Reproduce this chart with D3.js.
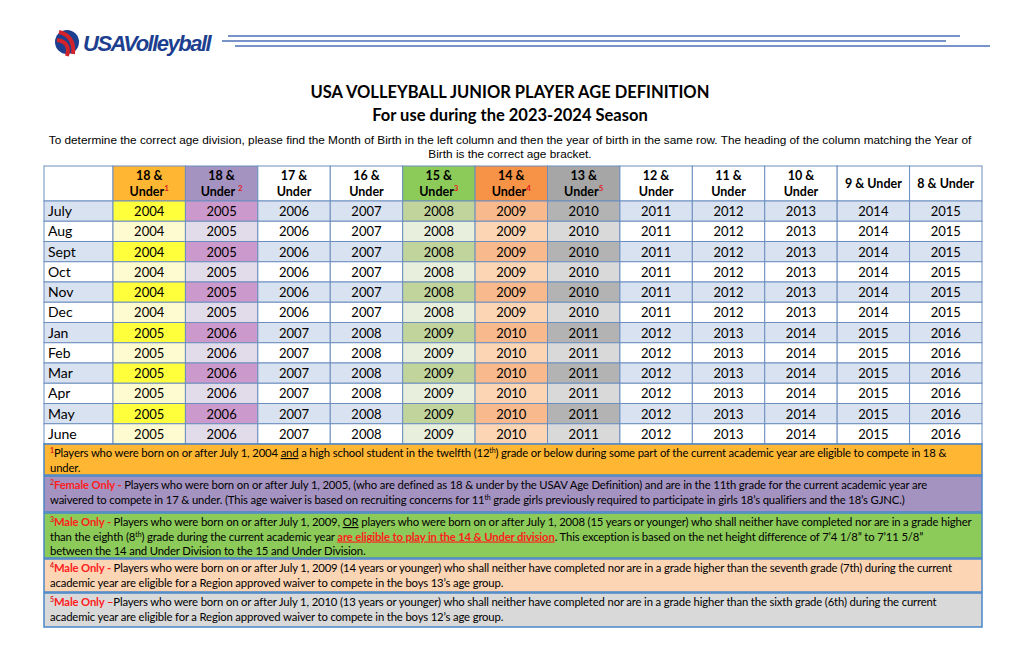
<!DOCTYPE html>
<html><head><meta charset="utf-8">
<script src="https://cdn.jsdelivr.net/npm/d3@7"></script>
<style>body{margin:0;background:#fff;}</style>
</head><body>
<svg id="page" width="1024" height="651"></svg>
<script>
const months = ["July","Aug","Sept","Oct","Nov","Dec","Jan","Feb","Mar","Apr","May","June"];
const headers = [["18 &","Under","1"],["18 &","Under ","2"],["17 &","Under"],["16 &","Under"],["15 &","Under","3"],["14 &","Under","4"],["13 &","Under","5"],["12 &","Under"],["11 &","Under"],["10 &","Under"],["9 & Under"],["8 & Under"]];
const firstYears = [2004,2005,2006,2007,2008,2009,2010,2011,2012,2013,2014,2015];
const headFill = ["#ffb733","#a493c0",null,null,"#8ccb5a","#f79346","#a6a6a6"];
const darkFill = ["#ffff3c","#cc99cc",null,null,"#c0d49c","#f8b98c","#b3b3b3"];
const lightFill = ["#fffbd0","#e2dcea",null,null,"#e8efdc","#fcd5b5","#d9d9d9"];
const notes = [
  {fill:"#ffb733", sup:"1", lead:"", rows:[[["Players who were born on or after July 1, 2004 "],["and","u"],[" a high school student in the twelfth (12"],["th","s"],[") grade or below during some part of the current academic year are eligible to compete in 18 &"]],[["under."]]]},
  {fill:"#a493c0", sup:"2", lead:"Female Only - ", rows:[[["Players who were born on or after July 1, 2005, (who are defined as 18 & under by the USAV Age Definition) and are in the 11th grade for the current academic year are"]],[["waivered to compete in 17 & under.  (This age waiver is based on recruiting concerns for 11"],["th","s"],[" grade girls previously required to participate in girls 18’s qualifiers and the 18’s GJNC.)"]]]},
  {fill:"#8ccb5a", sup:"3", lead:"Male Only - ", rows:[[["Players who were born on or after July 1, 2009, "],["OR","u"],[" players who were born on or after July 1, 2008 (15 years or younger) who shall neither have completed nor are in a grade higher"]],[["than the eighth (8"],["th","s"],[") grade during the current academic year "],["are eligible to play in the 14 & Under division","r"],[".  This exception is based on the net height difference of 7’4 1/8” to 7’11 5/8”"]],[["between the 14 and Under Division to the 15 and Under Division."]]]},
  {fill:"#fcd5b5", sup:"4", lead:"Male Only - ", rows:[[["Players who were born on or after July 1, 2009 (14 years or younger) who shall neither have completed nor are in a grade higher than the seventh grade (7th) during the current"]],[["academic year are eligible for a Region approved waiver to compete in the boys 13’s age group."]]]},
  {fill:"#d9d9d9", sup:"5", lead:"Male Only –", rows:[[["Players who were born on or after July 1, 2010 (13 years or younger) who shall neither have completed nor are in a grade higher than the sixth grade (6th) during the current"]],[["academic year are eligible for a Region approved waiver to compete in the boys 12’s age group."]]]}
];
const noteHeights = [31, 36, 45, 33, 34];

const font = "Lato, 'Liberation Sans', sans-serif";
const svg = d3.select("#page").attr("font-family", font);

// logo
const logo = svg.append("g").attr("transform","translate(55,28)");
logo.append("circle").attr("cx",12).attr("cy",14).attr("r",12).attr("fill","#1d3f8f");
logo.append("path").attr("d","M4,4 Q20,8 18,26 M2,12 Q16,14 12,28").attr("stroke","#d2232a").attr("stroke-width",4).attr("fill","none");
logo.append("text").attr("x",28).attr("y",23).attr("font-size",22).attr("font-weight",900).attr("font-style","italic")
  .attr("fill","#1d3f8f").attr("letter-spacing",-1.5).attr("font-family","'Liberation Sans', Arial, sans-serif").text("USAVolleyball");
[[228,960,36],[222,946,41],[235,990,46]].forEach(([a,b,y])=>svg.append("line").attr("x1",a).attr("x2",b).attr("y1",y).attr("y2",y).attr("stroke","#4a6fb5").attr("stroke-width",1.3));

svg.append("text").attr("x",510).attr("y",98).attr("text-anchor","middle").attr("font-size",16.5).attr("font-weight",700).text("USA VOLLEYBALL JUNIOR PLAYER AGE DEFINITION");
svg.append("text").attr("x",510).attr("y",121).attr("text-anchor","middle").attr("font-size",16.5).attr("font-weight",700).text("For use during the 2023-2024 Season");
const sub = svg.append("g").attr("font-family","'Liberation Sans', Arial, sans-serif").attr("font-size",11.8).attr("text-anchor","middle");
sub.append("text").attr("x",510).attr("y",144).text("To determine the correct age division, please find the Month of Birth in the left column and then the year of birth in the same row. The heading of the column matching the Year of");
sub.append("text").attr("x",510).attr("y",158).text("Birth is the correct age bracket.");

// table
const left = 44, right = 982, firstW = 69;
const x = d3.scaleBand().domain(d3.range(headers.length)).range([left+firstW, right]);
const headTop = 166, headBot = 201;
const y = d3.scaleBand().domain(months).range([headBot, 444]);
const border = "#6c8ebf";

const head = svg.append("g");
head.append("rect").attr("x",left).attr("y",headTop).attr("width",firstW).attr("height",headBot-headTop).attr("fill","#fff").attr("stroke",border);
headers.forEach((h,i)=>{
  const g = head.append("g");
  g.append("rect").attr("x",x(i)).attr("y",headTop).attr("width",x.bandwidth()).attr("height",headBot-headTop)
    .attr("fill",headFill[i]||"#fff").attr("stroke",border);
  const cx = x(i)+x.bandwidth()/2;
  if (h.length===1) {
    g.append("text").attr("x",cx).attr("y",188).attr("text-anchor","middle").attr("font-size",12.5).attr("font-weight",700).text(h[0]);
  } else {
    g.append("text").attr("x",cx).attr("y",180).attr("text-anchor","middle").attr("font-size",12.5).attr("font-weight",700).text(h[0]);
    const t = g.append("text").attr("x",cx).attr("y",196).attr("text-anchor","middle").attr("font-size",12.5).attr("font-weight",700).text(h[1]);
    if (h[2]) t.append("tspan").attr("font-size",8).attr("baseline-shift","super").attr("fill","#e02020").text(h[2]);
  }
});

const body = svg.append("g");
months.forEach((m,r)=>{
  const even = r%2===0;
  const off = r>=6 ? 1 : 0;
  body.append("rect").attr("x",left).attr("y",y(m)).attr("width",firstW).attr("height",y.bandwidth())
    .attr("fill",even?"#d9e2f1":"#fff").attr("stroke",border);
  body.append("text").attr("x",left+4).attr("y",y(m)+y.bandwidth()/2+5).attr("font-size",14).text(m);
  firstYears.forEach((yr,i)=>{
    const fill = (even?darkFill[i]:lightFill[i]) || (even?"#d9e2f1":"#fff");
    body.append("rect").attr("x",x(i)).attr("y",y(m)).attr("width",x.bandwidth()).attr("height",y.bandwidth())
      .attr("fill",fill).attr("stroke",border);
    body.append("text").attr("x",x(i)+x.bandwidth()/2).attr("y",y(m)+y.bandwidth()/2+5).attr("text-anchor","middle")
      .attr("font-size",13).text(yr+off);
  });
});

// footnotes
let ny = 444;
notes.forEach((n,k)=>{
  const h = noteHeights[k];
  svg.append("rect").attr("x",left).attr("y",ny).attr("width",right-left).attr("height",h).attr("fill",n.fill).attr("stroke","#4a86c8").attr("stroke-width",1.5);
  n.rows.forEach((row,li)=>{
    const t = svg.append("text").attr("x",left+6).attr("y",ny+13+li*14.5).attr("font-size",11.3).attr("letter-spacing",-0.15);
    if (li===0) {
      t.append("tspan").attr("font-size",7).attr("baseline-shift","super").attr("fill","#e02020").attr("font-weight",700).text(n.sup);
      if (n.lead) t.append("tspan").attr("fill","#ff2020").attr("font-weight",700).text(n.lead);
    }
    row.forEach(([s,st])=>{
      const sp = t.append("tspan").text(s);
      if (st==="s") sp.attr("font-size",7).attr("baseline-shift","super");
      if (st==="u") sp.attr("text-decoration","underline");
      if (st==="r") sp.attr("text-decoration","underline").attr("fill","#ff2020").attr("font-weight",700);
    });
  });
  ny += h + 1;
});
</script>
</body></html>
